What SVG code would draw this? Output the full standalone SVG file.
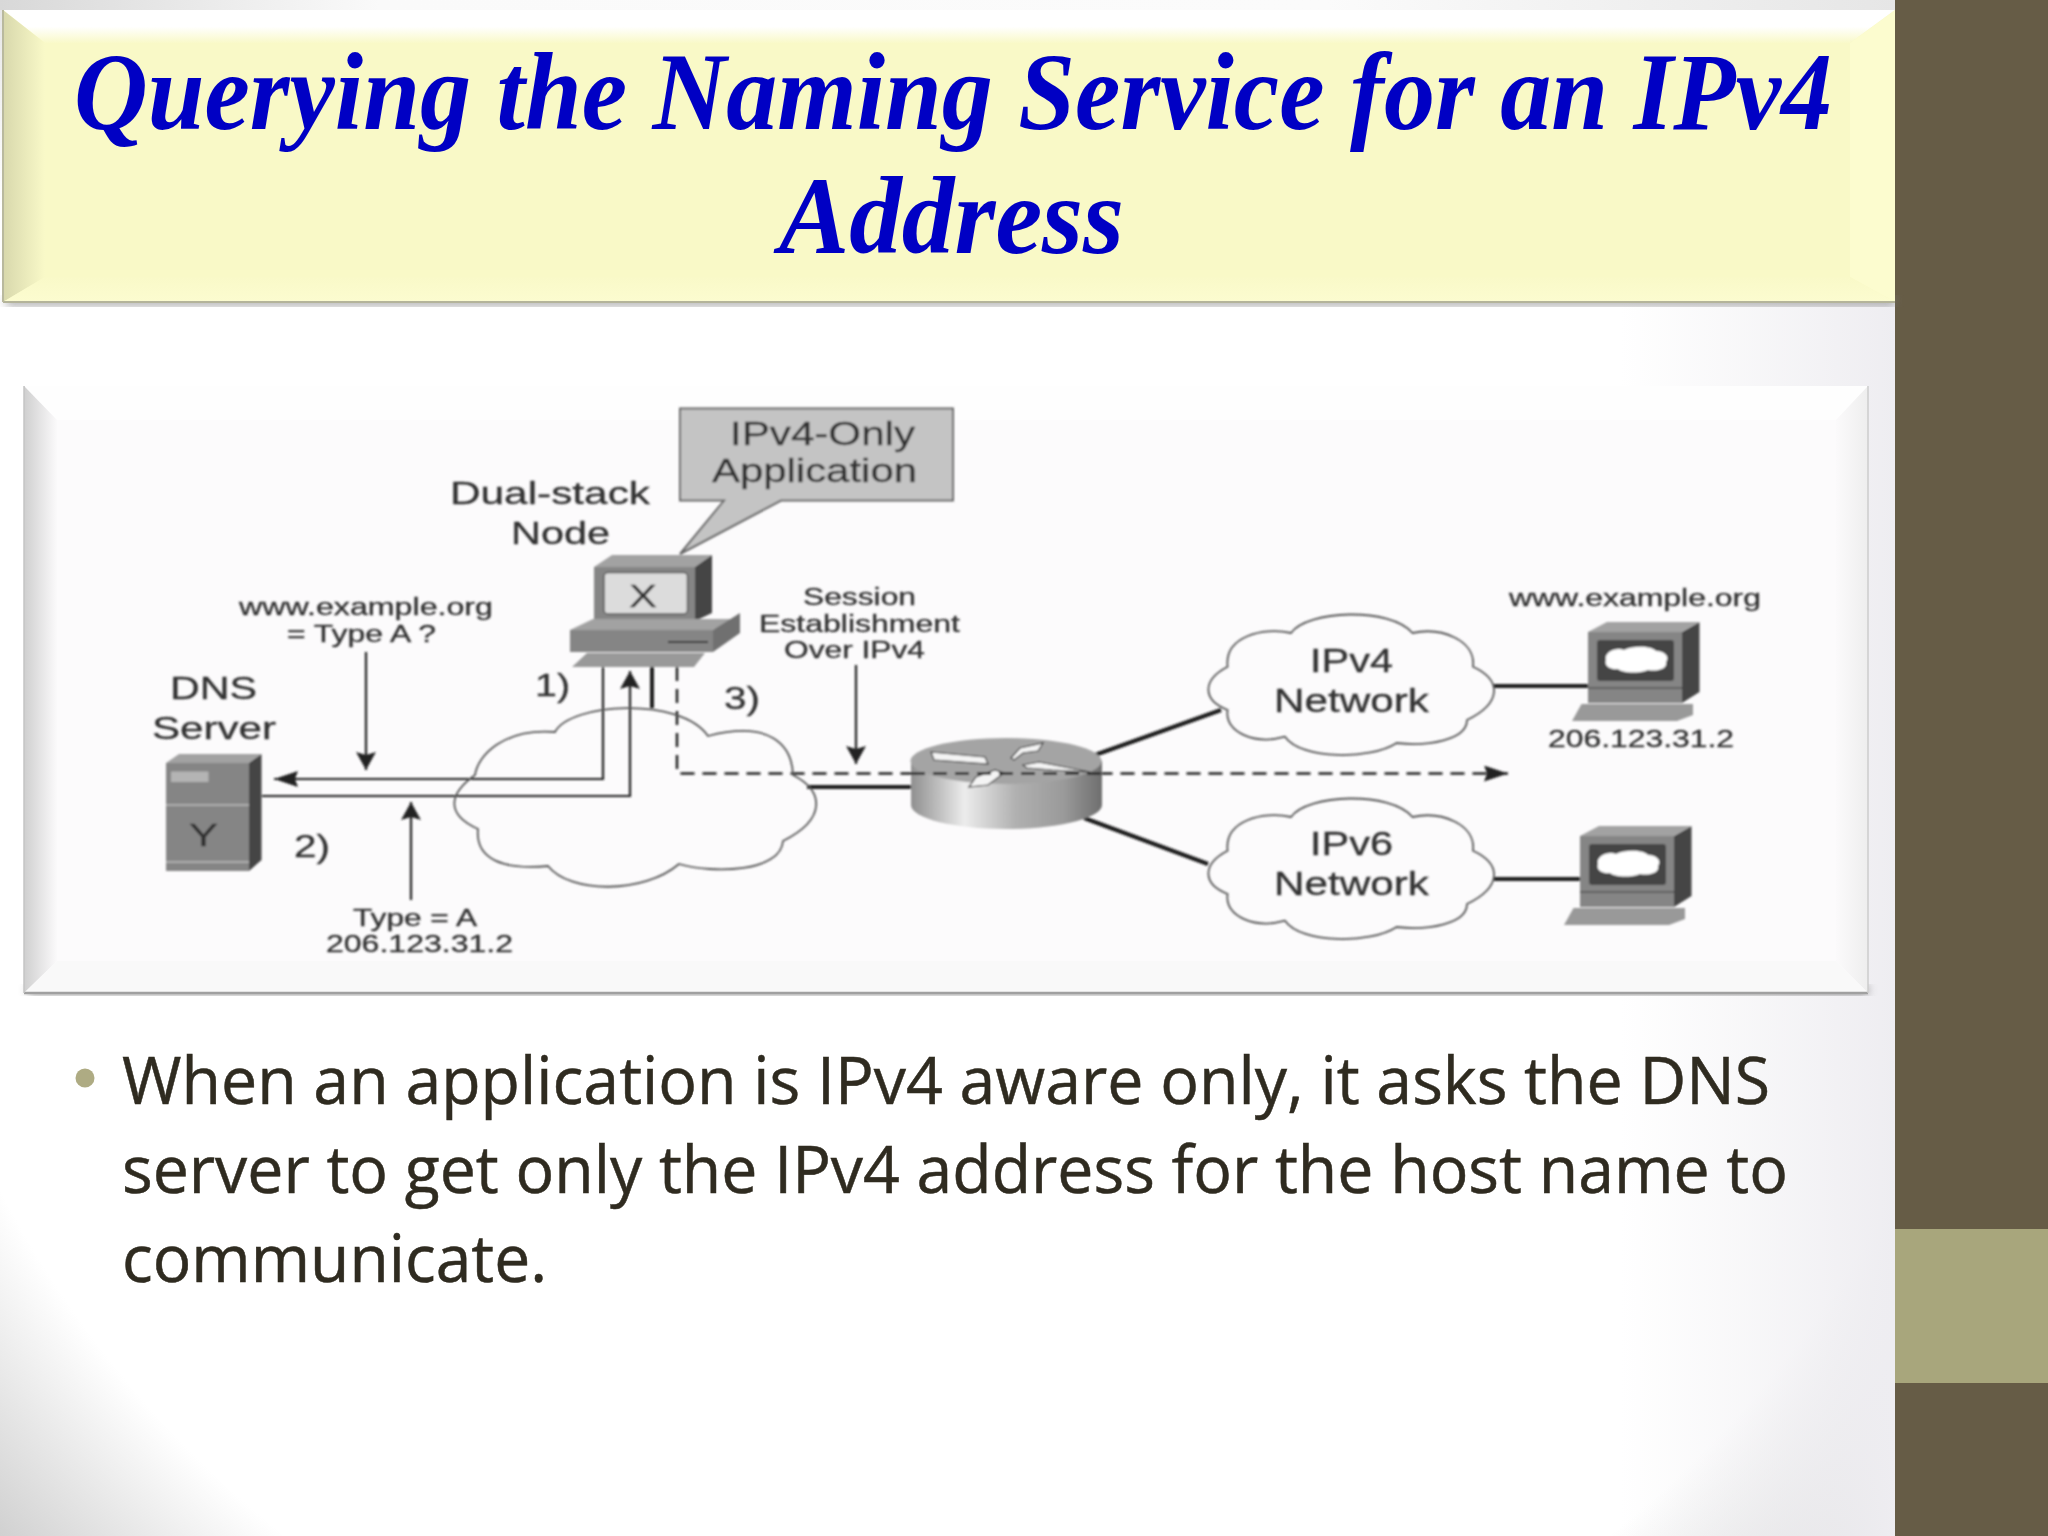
<svg xmlns="http://www.w3.org/2000/svg" xmlns:xlink="http://www.w3.org/1999/xlink" width="2048" height="1536" viewBox="0 0 2048 1536">
<style>
.t{font-family:"Liberation Sans",Arial,sans-serif;fill:#303030;stroke:#303030;stroke-width:.3}
.title{font-family:"Liberation Serif","Times New Roman",serif;font-style:italic;font-weight:700;font-size:111px;fill:#0000c4}
.body{font-family:"Open Sans",sans-serif;font-size:65px;fill:#2f2b20;stroke:#2f2b20;stroke-width:.5;font-variant-ligatures:none}
.ln{fill:none;stroke:#222;stroke-width:2.2}
.thick{fill:none;stroke:#1c1c1c;stroke-width:4}
.dash{fill:none;stroke:#222;stroke-width:2.6;stroke-dasharray:14 8}
.cloud{fill:none;stroke:#555;stroke-width:1.8}
.cf{fill:#858585}.cs{fill:#444}.ct{fill:#a2a2a2}.ck{fill:#999}
</style>
<defs>
<radialGradient id="bg" gradientUnits="userSpaceOnUse" cx="947" cy="700" r="1300">
<stop offset="0" stop-color="#ffffff"/><stop offset=".82" stop-color="#ffffff"/><stop offset="1" stop-color="#c8c8c8"/>
</radialGradient>
<linearGradient id="rightfade" gradientUnits="userSpaceOnUse" x1="1620" y1="0" x2="1895" y2="0"><stop offset="0" stop-color="#f0eff2" stop-opacity="0"/><stop offset="1" stop-color="#eeedf1"/></linearGradient>
<linearGradient id="strip" x1="0" x2="1" y1="0" y2="0"><stop offset="0" stop-color="#d8d8d8"/><stop offset=".2" stop-color="#fafafa"/><stop offset=".7" stop-color="#fbfbfb"/><stop offset="1" stop-color="#e6e6e6"/></linearGradient>
<linearGradient id="tt" x1="0" x2="0" y1="0" y2="1"><stop offset="0" stop-color="#ffffff"/><stop offset=".5" stop-color="#ffffff"/><stop offset="1" stop-color="#f9f9c9"/></linearGradient>
<linearGradient id="tl" x1="0" x2="1" y1="0" y2="0"><stop offset="0" stop-color="#d8d8ac"/><stop offset="1" stop-color="#f9f9c8"/></linearGradient>
<linearGradient id="tb" x1="0" x2="0" y1="0" y2="1"><stop offset="0" stop-color="#f9f9c8"/><stop offset="1" stop-color="#fcfcd0"/></linearGradient>
<linearGradient id="fl" x1="0" x2="1" y1="0" y2="0"><stop offset="0" stop-color="#cfcfcf"/><stop offset="1" stop-color="#fbfafb"/></linearGradient>
<linearGradient id="fr" x1="0" x2="1" y1="0" y2="0"><stop offset="0" stop-color="#fbfafb"/><stop offset="1" stop-color="#eeeeee"/></linearGradient>
<linearGradient id="rt" x1="0" x2="1" y1="0" y2="0"><stop offset="0" stop-color="#8f8f8f"/><stop offset=".28" stop-color="#ececec"/><stop offset=".55" stop-color="#b0b0b0"/><stop offset=".8" stop-color="#9a9a9a"/><stop offset="1" stop-color="#6e6e6e"/></linearGradient>
<filter id="sh" x="-2%" y="-5%" width="104%" height="115%"><feGaussianBlur stdDeviation="5"/></filter>
<filter id="soft" x="0" y="0" width="2048" height="1536" filterUnits="userSpaceOnUse"><feGaussianBlur stdDeviation="0.8"/></filter>
<marker id="ah" markerUnits="userSpaceOnUse" markerWidth="26" markerHeight="18" refX="24" refY="8" orient="auto"><path d="M24,8L0,0L3,8L0,16Z" fill="#222"/></marker>
<marker id="av" markerUnits="userSpaceOnUse" markerWidth="20" markerHeight="22" refX="18" refY="10" orient="auto"><path d="M18,10L0,0L3,10L0,20Z" fill="#222"/></marker>
<path id="netcloud" class="cloud" d="M1227.6,666.7C1224,636.7 1262.7,626.7 1291,633C1307,610 1390,606.7 1412.5,633C1441,626.7 1476,640 1473,666.7C1502,680 1502,703 1467,720C1467,740 1428,746.7 1396.6,743C1371,760 1301,760 1285,736.7C1256,745 1224,733 1227.6,710C1202,700 1202,680 1227.6,666.7Z"/>
<g id="host">
<path class="cs" d="M1682,632L1699.5,622V692L1682,703Z"/>
<path class="ct" d="M1588,632L1607,622H1699.5L1682,632Z"/>
<rect class="cf" x="1588" y="632" width="94" height="71"/>
<path d="M1588,688H1682" stroke="#555" stroke-width="1.5"/>
<rect x="1597" y="640" width="77" height="41" rx="3" fill="#444"/>
<path fill="#fff" d="M1606,660C1604,652 1616,647 1624,650C1634,645 1652,646 1656,651C1665,651 1670,657 1666,662C1668,669 1656,672 1648,670C1638,674 1622,673 1618,669C1609,670 1604,665 1606,660Z"/>
<path class="ck" d="M1572,721L1581.5,704H1693V715L1677,721Z"/>
</g>
</defs>

<rect id="background" width="1895" height="1536" fill="url(#bg)"/>
<rect width="1895" height="1536" fill="url(#rightfade)"/>
<rect x="0" y="0" width="1895" height="10" fill="url(#strip)"/>
<rect id="sidebar" x="1895" y="0" width="153" height="1536" fill="#665c46"/>
<rect id="sidebar-block" x="1895" y="1229" width="153" height="154" fill="#a8a67c"/>

<g id="title-band">
<rect x="6" y="296" width="1889" height="10" fill="#777" opacity=".6" filter="url(#sh)"/>
<rect x="3" y="10" width="1892" height="292" fill="#f9f9c7"/>
<path d="M3,10H1895L1850,43H45Z" fill="url(#tt)"/>
<path d="M3,10L45,43V277L3,302Z" fill="url(#tl)"/>
<path d="M1895,10L1850,43V277L1895,302Z" fill="#fcfccf"/>
<path d="M3,302L45,277H1850L1895,302Z" fill="url(#tb)"/>
<path d="M3,302H1895" stroke="#b4b49a" stroke-width="2"/>
<path d="M3,10V302" stroke="#b9b99e" stroke-width="2"/>
<text class="title" x="74" y="129" textLength="1758" lengthAdjust="spacingAndGlyphs">Querying the Naming Service for an IPv4</text>
<text class="title" x="779" y="253" textLength="345" lengthAdjust="spacingAndGlyphs">Address</text>
</g>

<g id="picture-frame">
<rect x="28" y="985" width="1840" height="10" fill="#666" opacity=".6" filter="url(#sh)"/>
<rect x="24" y="386" width="1844" height="607" fill="#fcfbfc"/>
<path d="M24,386H1868L1836,420H57Z" fill="#fefefe"/>
<path d="M24,386L57,420V961L24,993Z" fill="url(#fl)"/>
<path d="M1868,386L1836,420V961L1868,993Z" fill="url(#fr)"/>
<path d="M24,993L57,961H1836L1868,993Z" fill="#f9f9f9"/>
<path d="M24,993H1868" stroke="#a0a0a0" stroke-width="2.5"/>
<path d="M24,386V993" stroke="#c4c4c4" stroke-width="1.5"/>
<path d="M1868,386V993" stroke="#cccccc" stroke-width="1.5"/>
</g>

<g filter="url(#soft)">
<g id="connectors">
<path class="ln" d="M603,667V779H274" marker-end="url(#ah)"/>
<path class="ln" d="M262,796H630V671" marker-end="url(#av)"/>
<path class="thick" d="M652,667V708"/>
<path class="dash" d="M677,667V773.5H1508" marker-end="url(#ah)"/>
<path class="ln" d="M366,652V770" marker-end="url(#av)"/>
<path class="ln" d="M411,900V802" marker-end="url(#av)"/>
<path class="ln" d="M856,665V764" marker-end="url(#av)"/>
<path class="thick" d="M807,787H911"/>
<path class="thick" d="M1095,755L1221,710"/>
<path class="thick" d="M1084,818L1208,864"/>
<path class="thick" d="M1494,686H1590"/>
<path class="thick" d="M1494,879H1582"/>
</g>

<g id="callout">
<path d="M680,408.5H953V500.6H781L680,554L724,500.6H680Z" fill="#c4c4c4" stroke="#666" stroke-width="2"/>
<text class="t" font-size="33" x="730" y="445" textLength="185" lengthAdjust="spacingAndGlyphs">IPv4-Only</text>
<text class="t" font-size="33" x="712" y="482" textLength="205" lengthAdjust="spacingAndGlyphs">Application</text>
</g>

<g id="dual-stack-node">
<text class="t" font-size="32" x="450" y="504" textLength="200" lengthAdjust="spacingAndGlyphs">Dual-stack</text>
<text class="t" font-size="32" x="511" y="544" textLength="99" lengthAdjust="spacingAndGlyphs">Node</text>
<path class="ct" d="M594,567L612,555H712L695,567Z"/>
<path class="cs" d="M695,567L712,555V613L695,621Z"/>
<rect class="cf" x="594" y="567" width="101" height="54"/>
<path d="M594,621H695L700,626H594Z" fill="#444"/>
<rect x="604" y="572.6" width="83.5" height="41.4" rx="4" fill="#dcdcdc" stroke="#555" stroke-width="1.5"/>
<text class="t" font-size="31" x="629" y="607" textLength="28" lengthAdjust="spacingAndGlyphs">X</text>
<path class="ct" d="M570,630L593,619H740L713,630Z"/>
<path d="M713,630L740,613V633L713,652Z" fill="#707070"/>
<rect class="cf" x="570" y="630" width="143" height="22"/>
<path d="M668,642H708" stroke="#333" stroke-width="2"/>
<path class="ck" d="M572,667L587,653H705L694,667Z"/>
</g>

<g id="dns-server">
<text class="t" font-size="32" x="170" y="699" textLength="87" lengthAdjust="spacingAndGlyphs">DNS</text>
<text class="t" font-size="32" x="152" y="739" textLength="124" lengthAdjust="spacingAndGlyphs">Server</text>
<path class="ct" d="M166,763L179,754H261.5L249,763Z"/>
<path class="cs" d="M249,763L261.5,754V860L249,871Z"/>
<rect class="cf" x="166" y="763" width="83" height="108"/>
<rect x="171" y="771.5" width="37.5" height="10.5" fill="#b4b4b4"/>
<path d="M166,805H249M166,862H249" stroke="#bbb" stroke-width="1.6"/>
<text class="t" font-size="31" x="189" y="846" textLength="29" lengthAdjust="spacingAndGlyphs">Y</text>
</g>

<g id="labels">
<text class="t" font-size="23" x="239" y="615" textLength="254" lengthAdjust="spacingAndGlyphs">www.example.org</text>
<text class="t" font-size="23" x="287" y="642" textLength="149" lengthAdjust="spacingAndGlyphs">= Type A ?</text>
<text class="t" font-size="32" x="535" y="696" textLength="35" lengthAdjust="spacingAndGlyphs">1)</text>
<text class="t" font-size="32" x="294" y="857" textLength="36" lengthAdjust="spacingAndGlyphs">2)</text>
<text class="t" font-size="32" x="724" y="709" textLength="36" lengthAdjust="spacingAndGlyphs">3)</text>
<text class="t" font-size="23" x="803" y="605" textLength="113" lengthAdjust="spacingAndGlyphs">Session</text>
<text class="t" font-size="23" x="759" y="632" textLength="201" lengthAdjust="spacingAndGlyphs">Establishment</text>
<text class="t" font-size="23" x="784" y="658" textLength="141" lengthAdjust="spacingAndGlyphs">Over IPv4</text>
<text class="t" font-size="23" x="353" y="926" textLength="124" lengthAdjust="spacingAndGlyphs">Type = A</text>
<text class="t" font-size="23" x="326" y="952" textLength="187" lengthAdjust="spacingAndGlyphs">206.123.31.2</text>
</g>

<g id="center-cloud">
<path class="cloud" d="M475,775C478,755 504,728 555,732C570,703 680,696 708,736C770,720 792,745 793,775C824,791 827,819 783,841C781,872 714,874 679,864C644,894 570,894 548,866C504,870 475,860 478,829C447,815 447,795 475,775Z"/>
</g>

<g id="router">
<path d="M911,761V805C911,818 953,829 1006,829C1059,829 1102,818 1102,805V761Z" fill="url(#rt)"/>
<ellipse cx="1006" cy="761" rx="95.5" ry="23" fill="#a4a4a4"/>
<g fill="#f4f4f4" stroke="#333" stroke-width="1.2">
<path d="M931,752L985,757L988,764L934,760Z"/>
<path d="M1011,758L1020,748L1043,743L1038,751L1023,753L1014,760Z"/>
<path d="M1023,765L1039,762L1090,772L1052,770L1027,768Z"/>
<path d="M976,777L995,770L1004,773L988,785L969,787Z"/>
</g>
</g>
<path class="dash" d="M911,773.5H1102"/>

<g id="ipv4-network">
<use xlink:href="#netcloud" href="#netcloud"/>
<text class="t" font-size="33" x="1310" y="672" textLength="83" lengthAdjust="spacingAndGlyphs">IPv4</text>
<text class="t" font-size="33" x="1274" y="712" textLength="155" lengthAdjust="spacingAndGlyphs">Network</text>
</g>
<g id="ipv6-network">
<use xlink:href="#netcloud" href="#netcloud" transform="translate(0,184)"/>
<text class="t" font-size="33" x="1310" y="855" textLength="83" lengthAdjust="spacingAndGlyphs">IPv6</text>
<text class="t" font-size="33" x="1274" y="895" textLength="155" lengthAdjust="spacingAndGlyphs">Network</text>
</g>
<g id="host-ipv4">
<text class="t" font-size="23" x="1509" y="606" textLength="252" lengthAdjust="spacingAndGlyphs">www.example.org</text>
<use xlink:href="#host" href="#host"/>
<text class="t" font-size="23" x="1548" y="747" textLength="186" lengthAdjust="spacingAndGlyphs">206.123.31.2</text>
</g>
<g id="host-ipv6">
<use xlink:href="#host" href="#host" transform="translate(-8,204)"/>
</g>
</g>

<g id="bullet">
<circle cx="85" cy="1078" r="9.5" fill="#aeab83"/>
<text class="body" x="122" y="1104" textLength="1648" lengthAdjust="spacingAndGlyphs">When an application is IPv4 aware only, it asks the DNS</text>
<text class="body" x="122" y="1193" textLength="1666" lengthAdjust="spacingAndGlyphs">server to get only the IPv4 address for the host name to</text>
<text class="body" x="122" y="1282" textLength="425" lengthAdjust="spacingAndGlyphs">communicate.</text>
</g>
</svg>
